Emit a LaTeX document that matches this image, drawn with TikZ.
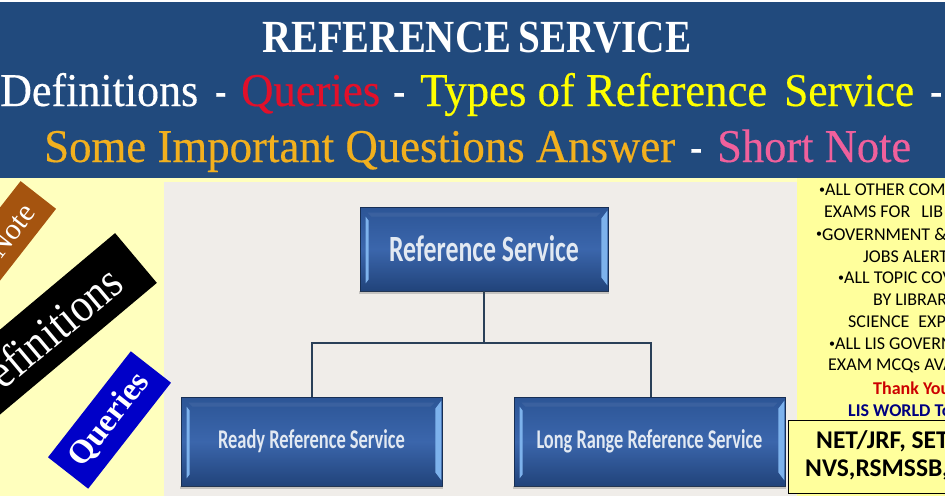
\documentclass[tikz,border=0pt]{standalone}
\usepackage{fontspec}
\usepackage{graphicx}
\setmainfont{Liberation Serif}
\newfontfamily\carl{Carlito}
\newfontfamily\hd[FakeBold=0.35]{Liberation Serif}
\usetikzlibrary{calc}
\definecolor{hdr}{HTML}{214A7D}
\definecolor{pale}{HTML}{FFFFBE}
\definecolor{rpale}{HTML}{FFFF9C}
\definecolor{mid}{HTML}{F0EDE9}
\definecolor{cred}{HTML}{E2102A}
\definecolor{cyel}{HTML}{FFFF00}
\definecolor{corg}{HTML}{F2B01E}
\definecolor{cpnk}{HTML}{F0609C}
\definecolor{cbrn}{HTML}{A5540F}
\definecolor{cblu}{HTML}{0000C8}
\definecolor{bevel}{HTML}{7DB2EC}
\definecolor{wire}{HTML}{2A4058}
\definecolor{boxtop}{HTML}{2C5596}
\definecolor{boxmid}{HTML}{3B66AC}
\definecolor{boxbot}{HTML}{21437A}
\definecolor{boxtext}{HTML}{E2E9F2}
\newcommand{\fs}[1]{\fontsize{#1}{#1}\selectfont}
\newcommand{\fit}[2]{\resizebox{#1pt}{\height}{#2}}
\newcommand{\dotb}{{\fs{12}\raisebox{2.5pt}{•}}}
\newcommand{\bevels}[1]{%
  \fill[black!70,opacity=.25] ($(#1.south west)+(-1,0)$) rectangle ($(#1.south east)+(1,3)$);
  \fill[bevel] ($(#1.north west)+(6,10)$) -- ($(#1.north west)+(9,14)$) -- ($(#1.south west)+(9,-12)$) -- ($(#1.south west)+(6,-8)$) -- cycle;
  \fill[bevel] ($(#1.north east)+(-1,4)$) -- ($(#1.south east)+(-1,-6)$) -- ($(#1.south east)+(-7,-14)$) -- ($(#1.north east)+(-7,12)$) -- cycle;
  \fill[white,opacity=.06] ($(#1.north west)+(8,6)$) -- ($(#1.north east)+(-8,6)$) -- ($(#1.north east)+(-12,10)$) -- ($(#1.north west)+(12,10)$) -- cycle;
}
\tikzset{
  x=1pt,y=-1pt,
  ribbon/.style={inner sep=0pt,align=center,text=white},
  hline/.style={anchor=base west,inner sep=0pt},
  treebox/.style={inner sep=0pt,text=boxtext,font=\carl\bfseries,
    top color=boxtop,bottom color=boxbot,middle color=boxmid,
    draw=boxbot!70!black,line width=.8pt},
  rline/.style={anchor=west,inner sep=0pt,font=\carl\fs{18}},
  wireline/.style={draw=wire,line width=2pt},
}
\begin{document}
\begin{tikzpicture}
\useasboundingbox (0,0) rectangle (945,496);
\clip (0,0) rectangle (945,496);
\fill[white] (0,0) rectangle (945,496);
\fill[hdr] (0,2) rectangle (945,178);
\fill[pale] (0,178) rectangle (164,496);
\fill[pale] (164,178) rectangle (797,182);
\fill[mid] (164,182) rectangle (797,496);
\fill[rpale] (797,178) rectangle (945,496);
% header
\node[hline,text=white] (t1) at (262,52) {\fit{249}{\fs{46}\bfseries REFERENCE}};
\node[hline,text=white] (t1b) at (518,52) {\fit{173}{\fs{46}\bfseries SERVICE}};
\node[hline,text=white] (t2a) at (0,106) {\fit{198}{\hd\fs{47}Definitions}};
\node[hline,text=white] (t2b) at (215,106) {\fit{11}{\hd\fs{47}-}};
\node[hline,text=cred] (t2c) at (241,106) {\fit{139}{\hd\fs{47}Queries}};
\node[hline,text=white] (t2d) at (393,106) {\fit{12}{\hd\fs{47}-}};
\node[hline,text=cyel] (t2e) at (420,106) {\fit{347}{\hd\fs{47}Types of Reference}};
\node[hline,text=cyel] (t2g) at (784,106) {\fit{130}{\hd\fs{47}Service}};
\node[hline,text=white] (t2f) at (930,106) {\fit{12}{\hd\fs{47}-}};
\node[hline,text=corg] (t3a) at (44,162) {\fit{631}{\hd\fs{47}Some Important Questions Answer}};
\node[hline,text=white] (t3b) at (690,162) {\fit{12}{\hd\fs{47}-}};
\node[hline,text=cpnk] (t3c) at (717,162) {\fit{194}{\hd\fs{47}Short Note}};
% ribbons
\node[ribbon,fill=cbrn,rotate=52,minimum width=130pt,minimum height=45pt,font=\fs{30}] (rb) at (-1.7,246.2) {\makebox[130pt][r]{Short Note\hspace{15pt}}};
\node[ribbon,fill=black,rotate=40,minimum width=220pt,minimum height=65pt,font=\fs{48}] (rk) at (51.7,328.7) {\makebox[220pt][r]{\fit{190}{Definitions}\hspace{27pt}}};
\node[ribbon,fill=cblu,rotate=52,minimum width=134.5pt,minimum height=51pt,font=\fs{33}\bfseries] (rq) at (109.5,420) {Queries};
% tree
\node[treebox,minimum width=248pt,minimum height=84pt] (top) at (484,249) {\fit{190}{\fs{37}\bfseries Reference Service}};
\node[treebox,minimum width=261pt,minimum height=89pt] (ready) at (311.5,441.5) {\fit{187}{\fs{27}\bfseries Ready Reference Service}};
\node[treebox,minimum width=271pt,minimum height=89pt] (long) at (649.5,441.5) {\fit{226}{\fs{27}\bfseries Long Range Reference Service}};
\coordinate (j) at (484,343);
\coordinate (ldrop) at (651,397);
\draw[wireline] (top.south) -- (j);
\draw[wireline] (ready.north) |- (j);
\draw[wireline] (ldrop) |- (j);
\bevels{top}
\bevels{ready}
\bevels{long}
% right panel
\node[rline] (r1) at (819,190) {\dotb ALL OTHER COM};
\node[rline] (r2) at (824,212) {EXAMS FOR\hspace{11pt}LIB};
\node[rline] (r3) at (816,234) {\dotb GOVERNMENT \&};
\node[rline] (r4) at (863,257) {JOBS ALERT};
\node[rline] (r5) at (838,278) {\dotb ALL TOPIC COV};
\node[rline] (r6) at (873,300) {BY LIBRAR};
\node[rline] (r7) at (848,322) {SCIENCE\hspace{9pt}EXP};
\node[rline] (r8) at (829,344) {\dotb ALL LIS GOVERN};
\node[rline] (r9) at (828,366) {EXAM MCQs AVA};
\node[rline,text=red!80!black,font=\carl\bfseries\fs{18}] (r10) at (873,388) {Thank You};
\node[rline,text=blue!50!black,font=\carl\bfseries\fs{18}] (r11) at (848,411) {LIS WORLD To};
\node[draw=black,line width=1pt,fill=rpale,minimum width=170pt,minimum height=73pt,anchor=north west,inner sep=0pt] (nb) at (787.5,420) {};
\node[anchor=west,inner sep=0pt,font=\carl\bfseries\fs{25.5}] (n1) at (816,441) {NET/JRF, SET};
\node[anchor=west,inner sep=0pt,font=\carl\bfseries\fs{25.5}] (n2) at (805,470) {NVS,RSMSSB,};
\end{tikzpicture}
\end{document}
